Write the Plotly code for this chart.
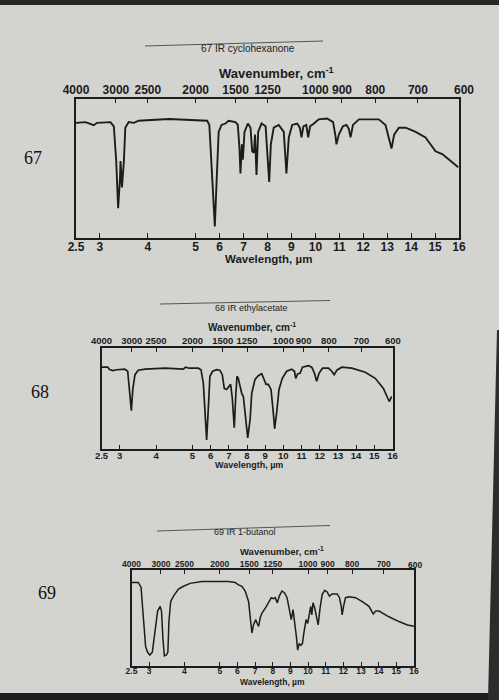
import plotly.graph_objects as go

# ---------------- data (wavelength in micrometres, % transmittance) ----------------
wl_67 = [2.50, 2.70, 2.87, 2.94, 3.22, 3.29, 3.34, 3.38, 3.42, 3.43, 3.46, 3.50, 3.53, 3.60, 3.71, 3.81,
         4.44, 4.86, 5.48, 5.57, 5.66, 5.80, 5.88, 5.96, 6.08, 6.24, 6.38, 6.66, 6.76, 6.83, 6.87, 6.93,
         6.97, 7.04, 7.18, 7.29, 7.36, 7.43, 7.48, 7.54, 7.61, 7.75, 7.92, 8.01, 8.07, 8.14, 8.26, 8.47,
         8.68, 8.79, 8.89, 9.03, 9.24, 9.35, 9.42, 9.50, 9.62, 9.70, 9.78, 9.94, 10.14, 10.49, 10.74,
         10.84, 10.88, 10.98, 11.15, 11.30, 11.40, 11.47, 11.57, 11.82, 12.65, 12.93, 13.07, 13.18,
         13.29, 13.49, 13.77, 14.19, 14.60, 15.02, 15.30, 15.58, 15.97]
t_67 = [82.5, 83, 80.8, 82.5, 83, 80, 55, 21, 43, 55, 36, 55, 79, 83, 82.5, 84,
        85.3, 84.9, 84, 81, 55, 8, 43, 76, 81, 82, 84, 83, 81, 64, 46, 67,
        56, 76, 82, 79, 62, 61, 74, 45, 76, 82, 80, 60, 40, 67, 79, 81,
        76, 46, 72, 81, 82, 79, 72, 80, 81, 72, 80, 82, 85, 85.6, 83,
        73, 67, 74, 80, 81, 78, 72, 81, 85, 85, 81, 72, 64,
        74, 79, 79, 76, 72, 62, 60, 56, 50.5]

wl_68 = [2.50, 2.67, 2.73, 2.82, 2.92, 3.14, 3.22, 3.26, 3.32, 3.36, 3.42, 3.51, 3.70, 4.25, 4.75, 4.81,
         4.91, 5.32, 5.47, 5.60, 5.69, 5.78, 5.87, 5.96, 6.11, 6.33, 6.51, 6.64, 6.75, 6.88, 7.01, 7.10,
         7.19, 7.30, 7.38, 7.45, 7.52, 7.61, 7.71, 7.80, 7.93, 8.04, 8.17, 8.26, 8.44, 8.62, 8.81, 8.90,
         9.05, 9.17, 9.32, 9.43, 9.52, 9.63, 9.76, 9.94, 10.18, 10.46, 10.61, 10.68, 10.79, 10.92, 11.05,
         11.38, 11.56, 11.71, 11.83, 11.96, 12.15, 12.48, 12.66, 12.79, 12.94, 13.21, 13.76, 14.50,
         15.05, 15.50, 15.69, 15.82, 15.96]
t_68 = [81, 81, 78.5, 77.6, 78.5, 79, 77, 62, 38, 59, 73.6, 78, 79, 80, 79, 81,
        80, 80, 78.5, 65, 32, 9, 39, 72, 77, 78.5, 78, 73.6, 60, 59, 62, 64,
        50.5, 21, 52, 72, 70, 62, 55, 52, 29, 11, 29, 55, 69, 72.6, 74.6, 70,
        64, 64, 59, 39, 20, 36, 59, 70, 77, 79, 77, 70, 74.6, 75, 81,
        82.5, 81, 75, 67, 75, 80, 80, 77, 73.6, 78, 81, 80, 76,
        70, 60, 52, 47, 52]

wl_69 = [2.50, 2.69, 2.77, 2.83, 2.90, 2.96, 3.02, 3.09, 3.17, 3.24, 3.31, 3.35, 3.39, 3.43, 3.49, 3.53,
         3.56, 3.61, 3.69, 3.73, 3.83, 3.97, 4.16, 4.49, 4.96, 5.49, 5.87, 6.06, 6.25, 6.44, 6.63, 6.72,
         6.82, 6.91, 7.03, 7.12, 7.20, 7.29, 7.39, 7.58, 7.77, 7.92, 8.05, 8.14, 8.26, 8.37, 8.52, 8.67,
         8.81, 8.94, 9.05, 9.15, 9.24, 9.34, 9.41, 9.49, 9.58, 9.68, 9.77, 9.89, 9.98, 10.08, 10.15,
         10.21, 10.28, 10.38, 10.49, 10.57, 10.68, 10.80, 10.95, 11.08, 11.21, 11.36, 11.65, 11.78,
         11.88, 11.93, 12.01, 12.12, 12.31, 12.69, 13.07, 13.45, 13.69, 13.83, 14.02, 14.58, 15.15,
         15.63, 16.0]
t_69 = [87, 87, 82, 53, 19.5, 13.5, 11, 14, 35, 57, 62, 57, 28, 10, 11, 14,
        46, 67, 72.7, 74.5, 80, 83, 86, 88, 88, 88, 87, 84.4, 83, 78, 67, 53,
        34, 42.5, 48, 44, 41, 50, 55, 60, 67, 71, 70, 71, 65.6, 72.7, 78, 76,
        71, 58.5, 48, 58.5, 46, 30, 16, 23, 21, 23, 35, 48, 44, 57, 62,
        53, 65.6, 60, 50, 42.5, 60, 74.5, 78.7, 77, 72.7, 75, 75, 71,
        62, 53, 62, 71, 72, 71, 67, 62, 54, 57, 57, 51, 46,
        42.5, 41]

wl_ticks = [2.5, 3, 4, 5, 6, 7, 8, 9, 10, 11, 12, 13, 14, 15, 16]
wl_labels = ["2.5", "3", "4", "5", "6", "7", "8", "9", "10", "11", "12", "13", "14", "15", "16"]
wn_ticks = [4000, 3000, 2500, 2000, 1500, 1250, 1000, 900, 800, 700]
wn_labels = ["4000", "3000", "2500", "2000", "1500", "1250", "1000", "900", "800", "700"]

titles = ["67 IR cyclohexanone", "68 IR ethylacetate", "69 IR 1-butanol"]
numbers = ["67", "68", "69"]


# chart scale: 2.5-5 um drawn at twice the scale of 5-16 um
def u(lam):
    return 2.0 * (lam - 2.5) if lam <= 5 else lam


W, H = 499, 700
def px(x):
    return x / W
def py(y):
    return 1 - y / H

INK = "#1c1c1c"
FONT = "Liberation Sans, Arial, sans-serif"

# per-panel geometry (pixels) and styling
panels = [
    dict(wl=wl_67, t=t_67, box=(76, 459, 98.5, 237.5), lw=1.9, bw=1.8, tl=5, fs=12,
         title_xy=(248, 48), title_fs=10, line=((145, 46), (323, 41)),
         wn_xy=(276, 73), wn_fs=13, wl_xy=(268, 259), wl_fs=11.5,
         num_xy=(33, 158), six=(464, 90.5)),
    dict(wl=wl_68, t=t_68, box=(101.5, 392.5, 348, 449), lw=1.7, bw=1.6, tl=4, fs=9.5,
         title_xy=(252, 308), title_fs=9, line=((160, 304), (330, 300.5)),
         wn_xy=(252, 327), wn_fs=10, wl_xy=(249, 465), wl_fs=9,
         num_xy=(40, 392), six=(393, 341)),
    dict(wl=wl_69, t=t_69, box=(131.5, 414, 570, 665.5), lw=1.5, bw=1.5, tl=4, fs=8.5,
         title_xy=(245, 532), title_fs=9, line=((157, 531), (330, 525.5)),
         wn_xy=(282, 551), wn_fs=9.5, wl_xy=(272, 682), wl_fs=8.5,
         num_xy=(47, 593), six=(415, 565)),
]

fig = go.Figure()
layout = dict(width=W, height=H, margin=dict(l=0, r=0, t=0, b=0, autoexpand=False),
              paper_bgcolor="#d3d4d0", plot_bgcolor="rgba(0,0,0,0)",
              showlegend=False, font=dict(family=FONT, color=INK))
annotations = []
shapes = []


def note(x, y, text, size, family=FONT, color=INK, weight="normal"):
    annotations.append(dict(x=px(x), y=py(y), xref="paper", yref="paper", text=text,
                            showarrow=False, xanchor="center", yanchor="middle",
                            font=dict(size=size, color=color, family=family, weight=weight)))


for i, p in enumerate(panels):
    k = i + 1
    xb = "x" if k == 1 else f"x{k}"
    yb = "y" if k == 1 else f"y{k}"
    xt_name = f"xaxis{k + 3}"
    xt_ref = f"x{k + 3}"
    xb_name = "xaxis" if k == 1 else f"xaxis{k}"
    yb_name = "yaxis" if k == 1 else f"yaxis{k}"

    fig.add_trace(go.Scatter(x=[u(v) for v in p["wl"]], y=p["t"], mode="lines",
                             line=dict(color=INK, width=p["lw"]),
                             xaxis=xb, yaxis=yb, hoverinfo="skip"))

    x0, x1, y0, y1 = p["box"]
    common = dict(range=[0, 16], showgrid=False, zeroline=False, showline=True, linecolor=INK,
                  linewidth=p["bw"], ticks="inside", ticklen=p["tl"], tickwidth=1.2,
                  tickcolor=INK, tickangle=0, automargin=False,
                  tickfont=dict(size=p["fs"], color=INK, weight="bold"), fixedrange=True)
    layout[xb_name] = dict(domain=[px(x0), px(x1)], anchor=yb, ticklabelstandoff=-3,
                           tickvals=[u(v) for v in wl_ticks], ticktext=wl_labels, **common)
    layout[yb_name] = dict(domain=[py(y1), py(y0)], anchor=xb, range=[0, 100],
                           showgrid=False, zeroline=False, showline=True, mirror=True,
                           linecolor=INK, linewidth=p["bw"], showticklabels=False, ticks="",
                           automargin=False, fixedrange=True)
    layout[xt_name] = dict(overlaying=xb, side="top", anchor=yb, ticklabelstandoff=-2,
                           tickvals=[u(1e4 / v) for v in wn_ticks], ticktext=wn_labels,
                           **common)
    # invisible trace so the top axis is drawn
    fig.add_trace(go.Scatter(x=[0], y=[None], xaxis=xt_ref, yaxis=yb, mode="lines",
                             hoverinfo="skip"))

    note(*p["title_xy"], titles[i], p["title_fs"])
    note(*p["wn_xy"], "Wavenumber, cm<sup>-1</sup>", p["wn_fs"], weight="bold")
    note(*p["wl_xy"], "Wavelength, µm", p["wl_fs"], weight="bold")
    note(*p["six"], "600", p["fs"], weight="bold")
    note(*p["num_xy"], numbers[i], 18, family="Liberation Serif, Times New Roman, serif",
         color="#111111")
    (lx0, ly0), (lx1, ly1) = p["line"]
    shapes.append(dict(type="line", xref="paper", yref="paper", x0=px(lx0), y0=py(ly0),
                       x1=px(lx1), y1=py(ly1), line=dict(color="#555555", width=1)))

# dark photo edges
shapes.append(dict(type="rect", xref="paper", yref="paper", x0=0, x1=1, y0=py(5), y1=1,
                   fillcolor="#262626", line=dict(width=0), layer="above"))
shapes.append(dict(type="rect", xref="paper", yref="paper", x0=0, x1=1, y0=0, y1=py(693),
                   fillcolor="#1e1e1e", line=dict(width=0), layer="above"))
shapes.append(dict(type="path", xref="paper", yref="paper",
                   path=f"M {px(497)} {py(330)} L 1 {py(330)} L 1 0 L {px(488)} 0 Z",
                   fillcolor="#2c2c2c", line=dict(width=0), layer="above"))

layout["annotations"] = annotations
layout["shapes"] = shapes
fig.update_layout(**layout)
fig.write_html("out.html")
